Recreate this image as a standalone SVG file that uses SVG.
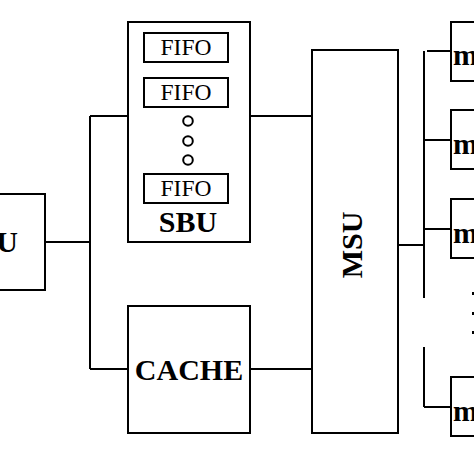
<svg xmlns="http://www.w3.org/2000/svg" width="474" height="474" viewBox="0 0 474 474">
<style>
.box{fill:#fff;stroke:#000;stroke-width:2}
.ln{fill:none;stroke:#000;stroke-width:2}
.lb{font-family:"Liberation Serif","Times New Roman",serif;font-weight:bold;font-size:30px;fill:#000}
.ff{font-family:"Liberation Serif","Times New Roman",serif;font-size:23.5px;fill:#000}
.dot{fill:none;stroke:#000;stroke-width:2}
</style>
<rect width="474" height="474" fill="#fff"/>
<g id="connectors">
<path class="ln" d="M45 242H90M90 116V369M90 116H139M90 369H128M250 369H312M239 116H312M139 47V190M139 47H144M139 92H144M139 189H144M239 47V190M228 47H239M228 92H239M228 189H239"/>
<path class="ln" d="M398 245H424M424 51V298M424 347V407M427 51H451M424 140H451M424 229H451M424 407H451"/>
<path d="M473 292V295M473 312V315M473 331V334" stroke="#000" stroke-width="2"/>
</g>
<g id="cpu">
<rect class="box" x="-10" y="194" width="55" height="96"/>
<text class="lb" x="18" y="252" text-anchor="end">U</text>
</g>
<g id="sbu">
<rect class="box" x="128" y="22" width="122" height="220"/>
<text class="lb" x="188" y="232" text-anchor="middle">SBU</text>
<circle class="dot" cx="188" cy="121" r="4.8"/>
<circle class="dot" cx="188" cy="141" r="4.8"/>
<circle class="dot" cx="188" cy="160" r="4.8"/>
</g>
<g id="fifo1"><rect class="box" x="144" y="33" width="84" height="29"/><text class="ff" x="186" y="55" text-anchor="middle">FIFO</text></g>
<g id="fifo2"><rect class="box" x="144" y="78" width="84" height="29"/><text class="ff" x="186" y="100" text-anchor="middle">FIFO</text></g>
<g id="fifo3"><rect class="box" x="144" y="174" width="84" height="29"/><text class="ff" x="186" y="196" text-anchor="middle">FIFO</text></g>
<g id="cache">
<rect class="box" x="128" y="306" width="122" height="127"/>
<text class="lb" x="189" y="380" text-anchor="middle">CACHE</text>
</g>
<g id="msu">
<rect class="box" x="312" y="50" width="86" height="383"/>
<text class="lb" transform="translate(362 245) rotate(-90)" text-anchor="middle">MSU</text>
</g>
<g id="m1"><rect class="box" x="451" y="22" width="40" height="59"/><text class="lb" x="453" y="65">m</text></g>
<g id="m2"><rect class="box" x="451" y="110" width="40" height="59"/><text class="lb" x="453" y="154">m</text></g>
<g id="m3"><rect class="box" x="451" y="199" width="40" height="59"/><text class="lb" x="453" y="243">m</text></g>
<g id="m4"><rect class="box" x="451" y="377" width="40" height="59"/><text class="lb" x="453" y="421">m</text></g>
</svg>
